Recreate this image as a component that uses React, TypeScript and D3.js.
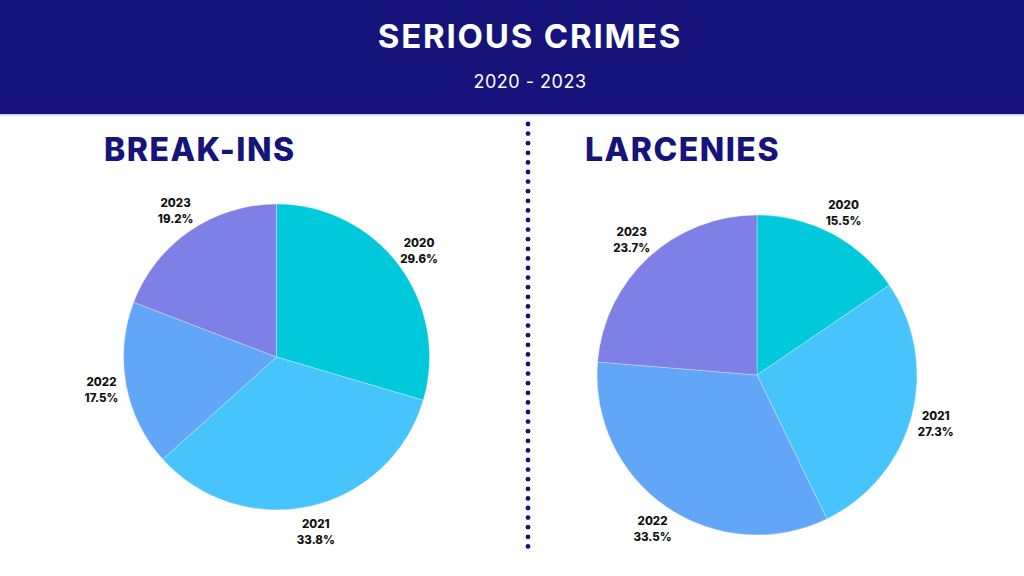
import React from "react";
import * as d3 from "d3";

const years = ["2020", "2021", "2022", "2023"];
const breakIns = [29.6, 33.8, 17.5, 19.2];
const larcenies = [15.5, 27.3, 33.5, 23.7];
const colors = ["#00c9dc", "#48c4fd", "#62a6f8", "#7f80e6"];

const W = 1024;
const H = 576;
const NAVY = "#16137a";

type PieProps = { cx: number; cy: number; r: number; values: number[] };

function Pie({ cx, cy, r, values }: PieProps) {
  const data = values.map((v, i) => ({ year: years[i], value: v, color: colors[i] }));
  const pie = d3.pie<any>().value((d) => d.value).sort(null);
  const arcs = pie(data);
  const arc = d3.arc<any>().innerRadius(0).outerRadius(r);
  const labelArc = d3.arc<any>().innerRadius(r + 25).outerRadius(r + 25);
  return (
    <g transform={`translate(${cx},${cy})`}>
      {arcs.map((a, i) => (
        <path key={i} d={arc(a) as string} fill={a.data.color} stroke="#ffffff" strokeWidth={0.3} />
      ))}
      {arcs.map((a, i) => {
        const [x, y] = labelArc.centroid(a);
        return (
          <text key={"l" + i} x={x} y={y} textAnchor="middle" fontFamily="Inter, 'Noto Sans', sans-serif" fontWeight={800} fontSize={11.5} fill="#111">
            <tspan x={x} dy={-3}>{a.data.year}</tspan>
            <tspan x={x} dy={16}>{a.data.value.toFixed(1)}%</tspan>
          </text>
        );
      })}
    </g>
  );
}

export default function App() {
  const dots = d3.range(124, 548, 9.6);
  return (
    <svg width={W} height={H} style={{ position: "absolute", left: 0, top: 0, background: "#fff" }}>
      <rect x={0} y={0} width={W} height={H} fill="#ffffff" />
      <rect x={0} y={0} width={W} height={115} fill={NAVY} />
      <rect x={0} y={114} width={W} height={1.5} fill="#c9c8f0" />
      <text x={530} y={48} textAnchor="middle" fill="#fff" fontFamily="Inter, Roboto, sans-serif" fontWeight={700} fontSize={33} letterSpacing={1.8}>
        SERIOUS CRIMES
      </text>
      <text x={530} y={87.5} textAnchor="middle" fill="#fff" fontFamily="Inter, Roboto, sans-serif" fontWeight={400} fontSize={18} letterSpacing={0.5}>
        2020 - 2023
      </text>
      {dots.map((y, i) => (
        <circle key={i} cx={528} cy={y} r={2.4} fill={NAVY} />
      ))}
      <text x={104} y={161} fill={NAVY} fontFamily="Inter, Roboto, sans-serif" fontWeight={800} fontSize={32} letterSpacing={1.5}>
        BREAK-INS
      </text>
      <text x={585} y={161} fill={NAVY} fontFamily="Inter, Roboto, sans-serif" fontWeight={800} fontSize={32} letterSpacing={1.5}>
        LARCENIES
      </text>
      <Pie cx={276.5} cy={357} r={153} values={breakIns} />
      <Pie cx={757} cy={375} r={160} values={larcenies} />
    </svg>
  );
}
